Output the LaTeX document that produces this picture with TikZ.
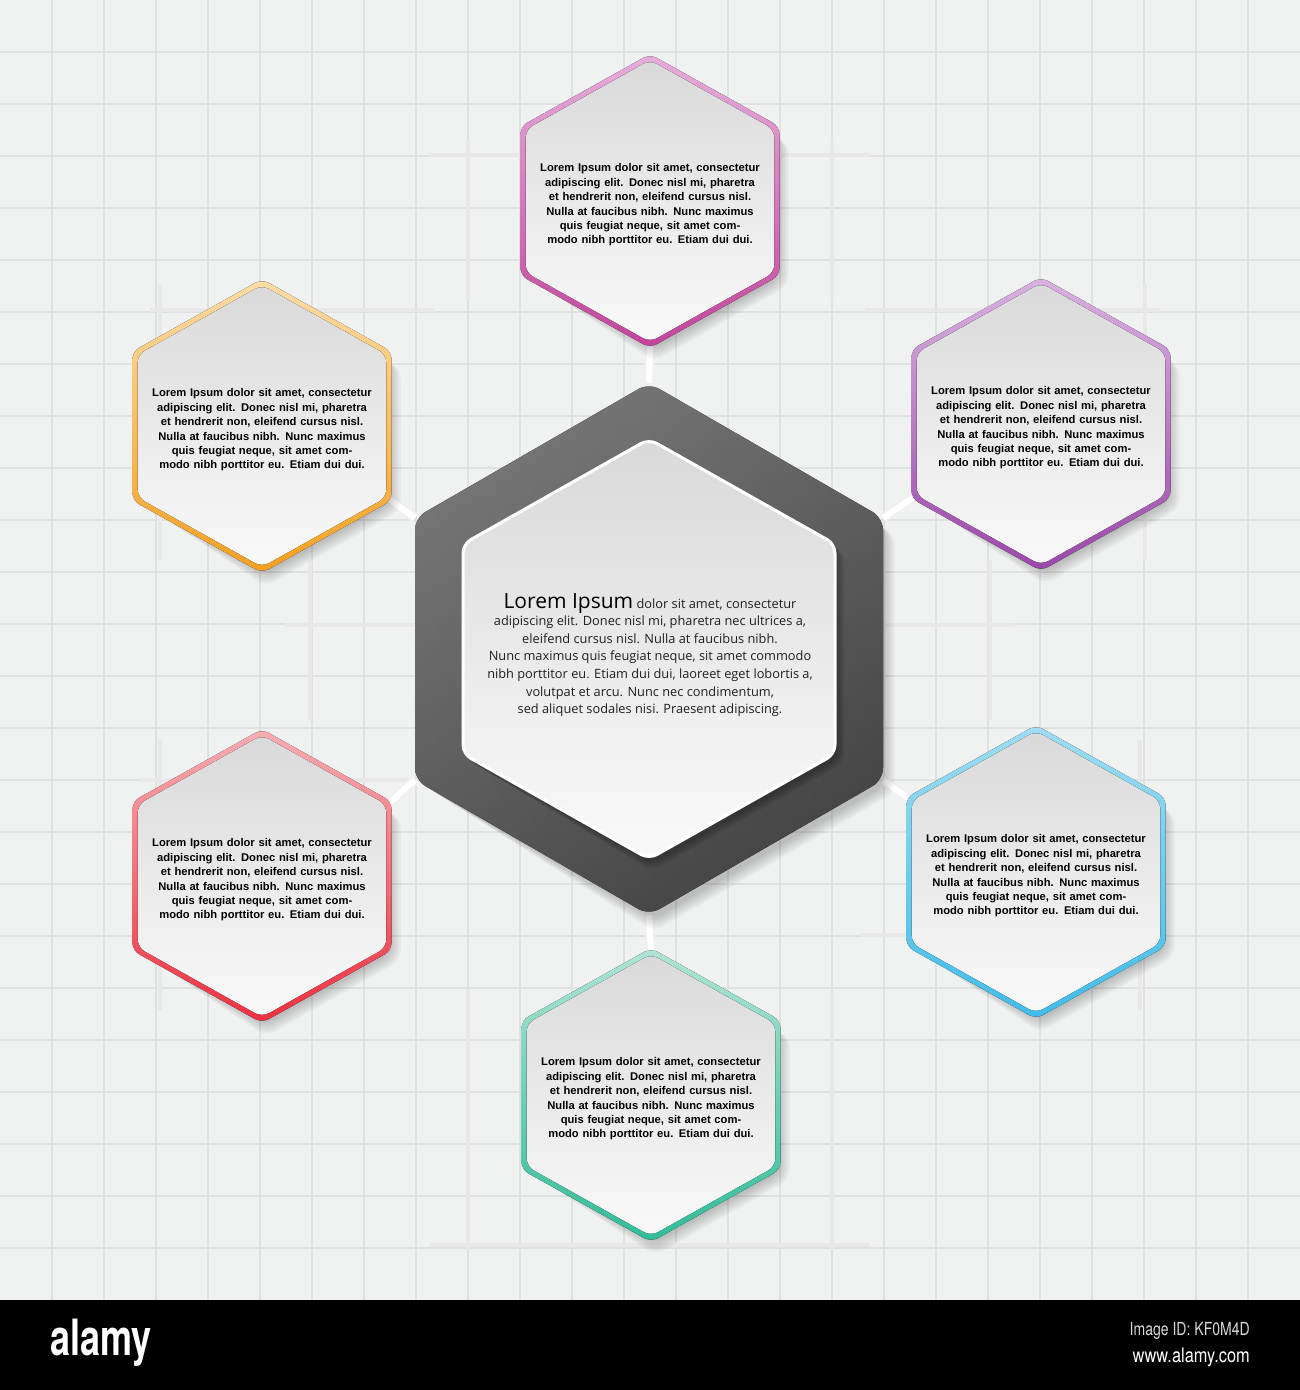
\documentclass[tikz,border=0pt]{standalone}
\usepackage{fontspec}
\setmainfont{Open Sans}
\newfontfamily\blobfont{Liberation Sans}
\newfontfamily\herosfont{TeX Gyre Heros}
\definecolor{bg}{HTML}{F0F1F1}
\definecolor{gridc}{HTML}{DFE0E0}
\definecolor{hextop}{HTML}{D9D9D9}
\definecolor{hexbot}{HTML}{FAFAFA}
\definecolor{pinkL}{HTML}{E6AEDB}\definecolor{pinkD}{HTML}{C2449A}
\definecolor{oraL}{HTML}{FCDCA6}\definecolor{oraD}{HTML}{F5A020}
\definecolor{purL}{HTML}{D9B2E0}\definecolor{purD}{HTML}{9A48A8}
\definecolor{redL}{HTML}{F8AEB4}\definecolor{redD}{HTML}{EC3040}
\definecolor{bluL}{HTML}{9FDDF2}\definecolor{bluD}{HTML}{40BCE8}
\definecolor{teaL}{HTML}{B0E4D6}\definecolor{teaD}{HTML}{30BC98}
\newcommand\hexp[3]{(0,-#2) -- (#1,-#3) -- (#1,#3) -- (0,#2) -- (-#1,#3) -- (-#1,-#3) -- cycle}
% soft shadow: width, half height, shoulder, dx, dy
\newcommand\hexshadow[5]{%
  \foreach \k in {0,...,6} {
    \fill[black, opacity=0.03, rounded corners=10pt, shift={(#4,#5)}] \hexp{#1+\k*1.8}{#2+\k*2.1}{#3+\k*1.05};
  }}
\newcommand\blobtext{Lorem Ipsum dolor sit amet, consectetur adipiscing elit. Donec nisl mi, pharetra et hendrerit non, eleifend cursus nisl. Nulla at faucibus nibh. Nunc maximus quis feugiat neque, sit amet commodo nibh porttitor eu. Etiam dui dui.}
\newcommand\hexcoords[3]{%
  \coordinate (#1-n) at (#2,#3-144);
  \coordinate (#1-s) at (#2,#3+144);
  \coordinate (#1-ne) at (#2+127,#3-73);
  \coordinate (#1-se) at (#2+127,#3+73);
  \coordinate (#1-sw) at (#2-127,#3+73);
  \coordinate (#1-nw) at (#2-127,#3-73);}
\newcommand\smallhex[6]{%
  \begin{scope}[shift={(#2,#3)}]
    \hexshadow{124}{141}{71}{4}{7}
    \fill[hexfill] \hexp{127}{144}{73};
    \fill[rim, top color=#4, bottom color=#5] \hexp{129.6}{146.9}{74.5} \hexp{124.4}{141.1}{71.5};
  \end{scope}
  \node[smalltext] (#1) at (#2,#3+4) {#6};}
\begin{document}
\begin{tikzpicture}[x=1pt,y=-1pt,
  hexfill/.style={rounded corners=7pt, top color=hextop, bottom color=hexbot},
  rim/.style={rounded corners=8pt, even odd rule},
  smalltext/.style={text width=224pt, align=center, inner sep=0pt,
    font=\blobfont\bfseries\fontsize{11.2}{14.4}\selectfont, text=black},
  centertext/.style={align=center, inner sep=0pt, text=black!88,
    font=\fontsize{12.8}{17.6}\selectfont},
  conn/.style={line width=6pt, white},
  connshade/.style={line width=10pt, black!6},
  gridline/.style={gridc, line width=1.6pt},
  deco/.style={black!9, line width=4pt},
]
\useasboundingbox (0,0) rectangle (1300,1390);
\fill[bg] (0,0) rectangle (1300,1300);
\foreach \i in {1,...,24} {
  \draw[gridline] (\i*52,0) -- (\i*52,1300);
  \draw[gridline] (0,\i*52) -- (1300,\i*52);
}
% decorative wider lines
\draw[deco] (430,155) -- (870,155);
\draw[deco] (468,140) -- (468,300);
\draw[deco] (832,140) -- (832,300);
\draw[deco] (150,310) -- (435,310);
\draw[deco] (865,310) -- (1160,310);
\draw[deco] (160,285) -- (160,560);
\draw[deco] (1145,285) -- (1145,560);
\draw[deco] (285,625) -- (415,625);
\draw[deco] (884,625) -- (1015,625);
\draw[deco] (310,560) -- (310,720);
\draw[deco] (990,560) -- (990,720);
\draw[deco] (140,780) -- (430,780);
\draw[deco] (860,935) -- (1160,935);
\draw[deco] (160,740) -- (160,1010);
\draw[deco] (1140,740) -- (1140,1010);
\draw[deco] (430,1245) -- (870,1245);
\draw[deco] (468,990) -- (468,1250);
\draw[deco] (832,990) -- (832,1250);

% anchor points
\coordinate (core-n) at (649,383);
\coordinate (core-s) at (649,915);
\coordinate (core-nw) at (415,518);
\coordinate (core-ne) at (883,518);
\coordinate (core-sw) at (415,780);
\coordinate (core-se) at (883,780);
\hexcoords{top}{650}{201}
\hexcoords{ul}{262}{426}
\hexcoords{ur}{1041}{424}
\hexcoords{ll}{262}{876}
\hexcoords{lr}{1036}{872}
\hexcoords{bot}{651}{1095}

% connectors
\foreach \a/\b in {top-s/core-n, core-s/bot-n, ul-se/core-nw, core-ne/ur-sw, ll-ne/core-sw, core-se/lr-nw} {
  \draw[connshade] (\a) -- (\b);
  \draw[conn] (\a) -- (\b);
}

% central hexagon
\begin{scope}[shift={(649,649)}]
  \hexshadow{230}{262}{129}{5}{8}
  \fill[rounded corners=12pt, top color=black!55, bottom color=black!85]
    \hexp{234}{266}{131};
  \fill[rounded corners=12pt, left color=black!0, right color=black!40, opacity=0.25]
    \hexp{234}{266}{131};
  \foreach \k in {0,...,4} {
    \fill[black, opacity=0.06, rounded corners=9pt, shift={(3,5)}] \hexp{186+\k*1.6}{210+\k*1.8}{105+\k*0.9};
  }
  \fill[rounded corners=9pt, top color=hextop, bottom color=hexbot]
    \hexp{186}{210}{105};
  \draw[rounded corners=9pt, white, line width=3pt] \hexp{186}{210}{105};
\end{scope}
\node[centertext] (core) at (650,655) {{\fontsize{21}{21}\selectfont\color{black} Lorem Ipsum} dolor sit amet, consectetur\\
adipiscing elit. Donec nisl mi, pharetra nec ultrices a,\\
eleifend cursus nisl. Nulla at faucibus nibh.\\
Nunc maximus quis feugiat neque, sit amet commodo\\
nibh porttitor eu. Etiam dui dui, laoreet eget lobortis a,\\
volutpat et arcu. Nunc nec condimentum,\\
sed aliquet sodales nisi. Praesent adipiscing.};

\smallhex{top}{650}{201}{pinkL}{pinkD}{\blobtext}
\smallhex{ul}{262}{426}{oraL}{oraD}{\blobtext}
\smallhex{ur}{1041}{424}{purL}{purD}{\blobtext}
\smallhex{ll}{262}{876}{redL}{redD}{\blobtext}
\smallhex{lr}{1036}{872}{bluL}{bluD}{\blobtext}
\smallhex{bot}{651}{1095}{teaL}{teaD}{\blobtext}

% bottom bar
\fill[black] (0,1300) rectangle (1300,1390);
\node[anchor=west, text=white, inner sep=0pt, font=\herosfont\bfseries\fontsize{50}{50}\selectfont] (brand) at (50,1343) {\scalebox{0.72}[1]{alamy}};
\node[anchor=east, text=white!85!black, inner sep=0pt, font=\herosfont\fontsize{18}{18}\selectfont] (imgid) at (1250,1331) {\scalebox{0.78}[1]{Image ID: KF0M4D}};
\node[anchor=east, text=white, inner sep=0pt, font=\herosfont\fontsize{20}{20}\selectfont] (site) at (1250,1357) {\scalebox{0.82}[1]{www.alamy.com}};
\end{tikzpicture}
\end{document}
